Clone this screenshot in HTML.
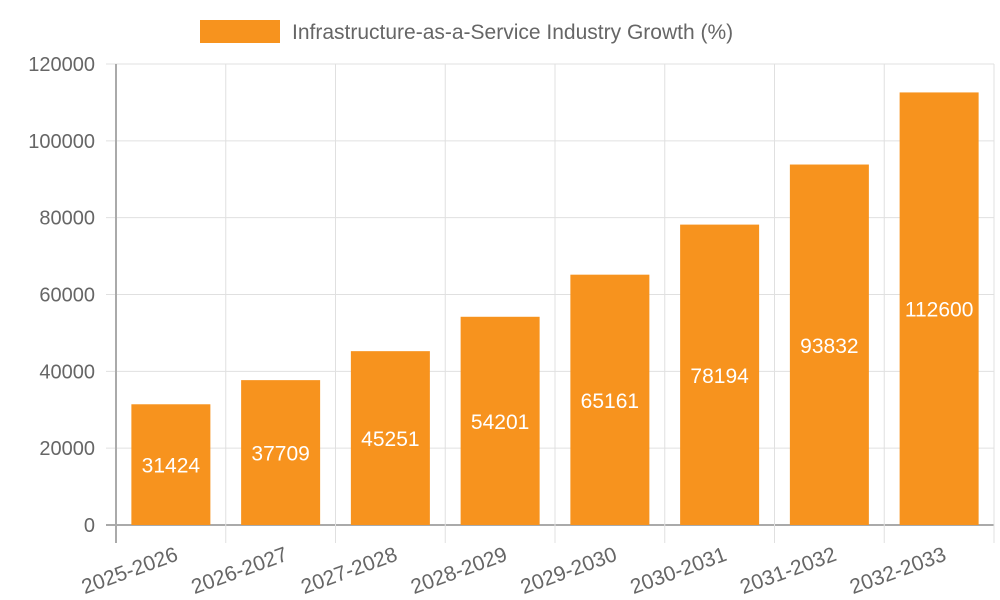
<!DOCTYPE html>
<html><head><meta charset="utf-8"><style>
body{margin:0;background:#fff;}
svg{display:block;font-family:"Liberation Sans",sans-serif;}
</style></head><body>
<svg id="chart" width="1000" height="600">
<rect x="200" y="20" width="80" height="23" fill="#f7931e"/>
<text x="292" y="39" font-size="21" fill="#666">Infrastructure-as-a-Service Industry Growth (%)</text>
<g id="grid"></g><g id="bars"></g><g id="labels"></g>
</svg>
<script>
const categories=["2025-2026","2026-2027","2027-2028","2028-2029","2029-2030","2030-2031","2031-2032","2032-2033"];
const values=[31424,37709,45251,54201,65161,78194,93832,112600];
const yTicks=[0,20000,40000,60000,80000,100000,120000];
const NS="http://www.w3.org/2000/svg";
const L=116,R=994,T=64,B=525,yMax=120000;
const bw=(R-L)/categories.length;
const y=v=>B-(v/yMax)*(B-T);
const xc=i=>L+bw*(i+0.5);
function mk(tag,attrs,parent){const e=document.createElementNS(NS,tag);for(const k in attrs)e.setAttribute(k,attrs[k]);parent.appendChild(e);return e;}
const grid=document.getElementById('grid'),bars=document.getElementById('bars'),labels=document.getElementById('labels');
yTicks.forEach(t=>{
 const ln=mk('line',{x1:106,x2:R,y1:y(t),y2:y(t),stroke:t===0?'#aaa':'#e0e0e0','stroke-width':t===0?2:1},grid);
 
 
 const tx=mk('text',{x:95,y:y(t)+7,'text-anchor':'end','font-size':20,fill:'#666'},grid);
 tx.textContent=t;
 
 
});
for(let i=0;i<=categories.length;i++){
 const x=L+bw*i;
 const ln=mk('line',{x1:x,x2:x,y1:T,y2:543,stroke:i===0?'#aaa':'#e0e0e0','stroke-width':i===0?2:1},grid);
 
 
}
categories.forEach((c,i)=>{
 const w=79,x=xc(i)-w/2;
 const r=mk('rect',{x:x,y:y(values[i]),width:w,height:B-y(values[i]),fill:'#f7931e'},bars);
 
 
 const vt=mk('text',{x:xc(i),y:(y(values[i])+B)/2+8,'text-anchor':'middle','font-size':21,fill:'#fff'},labels);
 vt.textContent=values[i];
 
 
 const xt=mk('text',{transform:`translate(${xc(i)+4},${548}) rotate(-20)`,'text-anchor':'end','font-size':21,fill:'#666',dy:'0.6em'},labels);
 xt.textContent=c;
 
 
});
</script>
</body></html>
